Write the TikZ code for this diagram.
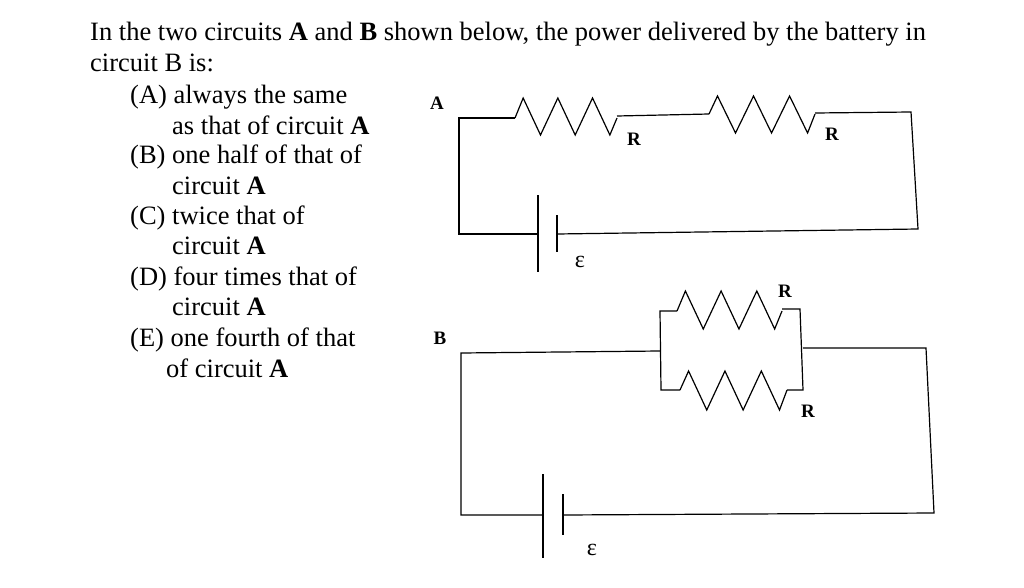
\documentclass[tikz,border=0pt]{standalone}
\usepackage{fontspec}
\setmainfont{Liberation Serif}
\newcommand{\myres}[5]{% x1 y1 x2 ytop ybot
  \draw[wire] (#1,#2) -- ({#1+0.08*(#3-#1)},#4) -- ({#1+0.25*(#3-#1)},#5) -- ({#1+0.42*(#3-#1)},#4) -- ({#1+0.59*(#3-#1)},#5) -- ({#1+0.76*(#3-#1)},#4) -- ({#1+0.93*(#3-#1)},#5) -- (#3,#2);}
\begin{document}
\begin{tikzpicture}[x=1pt,y=-1pt,wire/.style={line width=1.2pt},
  txt/.style={anchor=base west,inner sep=0pt,font=\fontsize{26.5}{28}\selectfont},
  lbl/.style={inner sep=0pt,font=\fontsize{19}{20}\selectfont\bfseries}]
\useasboundingbox (0,0) rectangle (1024,588);
\fill[white] (0,0) rectangle (1024,588);
\node[txt] (l1) at (90,41) {In the two circuits \textbf{A} and \textbf{B} shown below, the power delivered by the battery in};
\node[txt] (l2) at (90,72) {circuit B is:};
\node[txt] (a1) at (130,104) {(A) always the same};
\node[txt] (a2) at (172,135) {as that of circuit \textbf{A}};
\node[txt] (b1) at (130,164) {(B) one half of that of};
\node[txt] (b2) at (172,194) {circuit \textbf{A}};
\node[txt] (c1) at (130,224) {(C) twice that of};
\node[txt] (c2) at (172,254) {circuit \textbf{A}};
\node[txt] (d1) at (130,285) {(D) four times that of};
\node[txt] (d2) at (172,315) {circuit \textbf{A}};
\node[txt] (e1) at (130,346) {(E) one fourth of that};
\node[txt] (e2) at (166,377) {of circuit \textbf{A}};
% circuit A
\node[lbl] (A) at (437,103) {A};
\coordinate (a0) at (538,234);
\coordinate (a1s) at (557,234);
\draw[wire] (a0) -- (459,234) -- (459,118) -- (515,118);
\myres{515}{118}{617}{98}{135}
\draw[wire] (617,116) -- (709,114);
\myres{709}{114}{815}{96}{133}
\draw[wire] (815,113) -- (911,112) -- (918,229) -- (a1s);
\draw[wire] (538,195) -- (538,272);
\draw[wire] (557,215) -- (557,252);
\node[lbl] (rA1) at (634,139) {R};
\node[lbl] (rA2) at (832,134) {R};
\node[inner sep=0pt,font=\fontsize{24}{24}\selectfont] (eA) at (580,262) {ε};
% circuit B
\node[lbl] (B) at (440,338) {B};
\coordinate (b0) at (543,515);
\coordinate (b1s) at (563,515);
\draw[wire] (b0) -- (461,515) -- (461,353) -- (660,351);
\draw[wire] (677,311) -- (660,311) -- (661,390) -- (680,390);
\myres{677}{311}{782}{291}{329}
\myres{680}{390}{787}{371}{410}
\draw[wire] (782,309) -- (800,309) -- (803,390) -- (787,390);
\draw[wire] (803,348) -- (926,348) -- (934,513) -- (b1s);
\draw[wire] (543,474) -- (543,558);
\draw[wire] (563,494) -- (563,535);
\node[lbl] (rB1) at (785,291) {R};
\node[lbl] (rB2) at (808,411) {R};
\node[inner sep=0pt,font=\fontsize{24}{24}\selectfont] (eB) at (592,550) {ε};
\end{tikzpicture}
\end{document}
